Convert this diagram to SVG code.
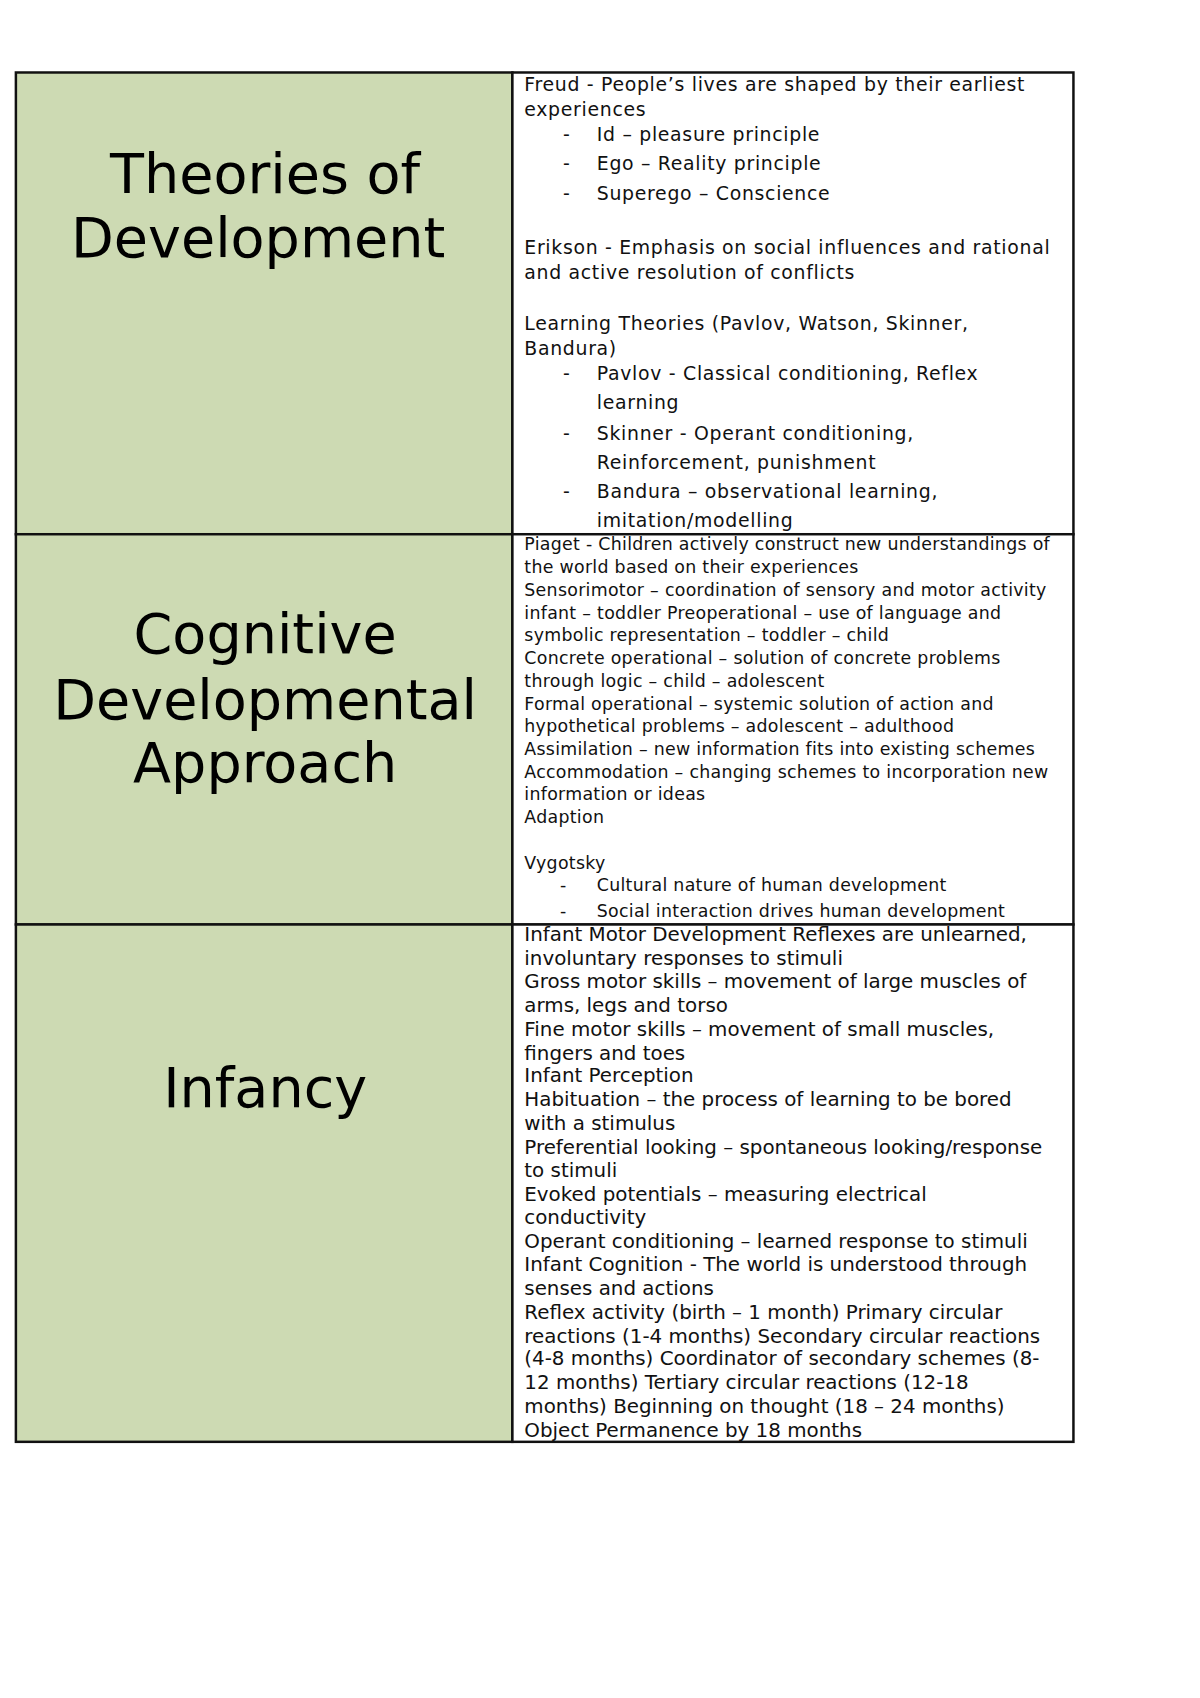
<svg xmlns="http://www.w3.org/2000/svg" width="1200" height="1698" viewBox="0 0 1200 1698">
<style>
.h{font-family:"DejaVu Sans",sans-serif;font-size:56px;text-anchor:middle;fill:#000}
.a{font-family:"DejaVu Sans",sans-serif;font-size:19px;fill:#111;letter-spacing:0.7px}
.b{font-family:"DejaVu Sans",sans-serif;font-size:17.5px;fill:#111;letter-spacing:0.3px}
.c{font-family:"DejaVu Sans",sans-serif;font-size:20px;fill:#111}
.g{fill:#cddab3;stroke:#111;stroke-width:2.5}
.w{fill:#fff;stroke:#111;stroke-width:2.5}
</style>
<rect width="1200" height="1698" fill="#fff"/>
<g transform="scale(0.993)">
<g id="row1">
<rect class="g" x="16" y="73" width="500" height="465"/>
<rect class="w" x="516" y="73" width="565" height="465"/>
<text class="h" x="267" y="194">Theories of</text>
<text class="h" x="260" y="259">Development</text>
<g class="a">
<text x="528" y="92">Freud -  People’s lives are shaped by their earliest</text>
<text x="528" y="117">experiences</text>
<text x="567" y="142">-</text><text x="601" y="142">Id – pleasure principle</text>
<text x="567" y="171">-</text><text x="601" y="171">Ego – Reality principle</text>
<text x="567" y="201">-</text><text x="601" y="201">Superego – Conscience</text>
<text x="528" y="256">Erikson - Emphasis on social influences and rational</text>
<text x="528" y="281">and active resolution of conflicts</text>
<text x="528" y="332">Learning Theories (Pavlov, Watson, Skinner,</text>
<text x="528" y="358">Bandura)</text>
<text x="567" y="383">-</text><text x="601" y="383">Pavlov - Classical conditioning, Reflex</text>
<text x="601" y="412">learning</text>
<text x="567" y="443">-</text><text x="601" y="443">Skinner - Operant conditioning,</text>
<text x="601" y="472">Reinforcement, punishment</text>
<text x="567" y="502">-</text><text x="601" y="502">Bandura – observational learning,</text>
<text x="601" y="531">imitation/modelling</text>
</g>
</g>
<g id="row2">
<rect class="g" x="16" y="538" width="500" height="393"/>
<rect class="w" x="516" y="538" width="565" height="393"/>
<text class="h" x="267" y="658">Cognitive</text>
<text class="h" x="267" y="724">Developmental</text>
<text class="h" x="267" y="788">Approach</text>
<g class="b">
<text x="528" y="554">Piaget - Children actively construct new understandings of</text>
<text x="528" y="577">the world based on their experiences</text>
<text x="528" y="600">Sensorimotor – coordination of sensory and motor activity</text>
<text x="528" y="623">infant – toddler Preoperational – use of language and</text>
<text x="528" y="646">symbolic representation – toddler – child</text>
<text x="528" y="669">Concrete operational – solution of concrete problems</text>
<text x="528" y="692">through logic – child – adolescent</text>
<text x="528" y="715">Formal operational – systemic solution of action and</text>
<text x="528" y="737">hypothetical problems – adolescent – adulthood</text>
<text x="528" y="760">Assimilation – new information fits into existing schemes</text>
<text x="528" y="783">Accommodation – changing schemes to incorporation new</text>
<text x="528" y="806">information or ideas</text>
<text x="528" y="829">Adaption</text>
<text x="528" y="875">Vygotsky</text>
<text x="564" y="897">-</text><text x="601" y="897">Cultural nature of human development</text>
<text x="564" y="923">-</text><text x="601" y="923">Social interaction drives human development</text>
</g>
</g>
<g id="row3">
<rect class="g" x="16" y="931" width="500" height="521"/>
<rect class="w" x="516" y="931" width="565" height="521"/>
<text class="h" x="267" y="1115">Infancy</text>
<g class="c">
<text x="528" y="948">Infant Motor Development Reflexes are unlearned,</text>
<text x="528" y="972">involuntary responses to stimuli</text>
<text x="528" y="995">Gross motor skills – movement of large muscles of</text>
<text x="528" y="1019">arms, legs and torso</text>
<text x="528" y="1043">Fine motor skills – movement of small muscles,</text>
<text x="528" y="1067">fingers and toes</text>
<text x="528" y="1090">Infant Perception</text>
<text x="528" y="1114">Habituation – the process of learning to be bored</text>
<text x="528" y="1138">with a stimulus</text>
<text x="528" y="1162">Preferential looking – spontaneous looking/response</text>
<text x="528" y="1185">to stimuli</text>
<text x="528" y="1209">Evoked potentials – measuring electrical</text>
<text x="528" y="1233">conductivity</text>
<text x="528" y="1257">Operant conditioning – learned response to stimuli</text>
<text x="528" y="1280">Infant Cognition - The world is understood through</text>
<text x="528" y="1304">senses and actions</text>
<text x="528" y="1328">Reflex activity (birth – 1 month) Primary circular</text>
<text x="528" y="1352">reactions (1-4 months) Secondary circular reactions</text>
<text x="528" y="1375">(4-8 months) Coordinator of secondary schemes (8-</text>
<text x="528" y="1399">12 months) Tertiary circular reactions (12-18</text>
<text x="528" y="1423">months) Beginning on thought (18 – 24 months)</text>
<text x="528" y="1447">Object Permanence by 18 months</text>
</g>
</g>
</g>
</svg>
